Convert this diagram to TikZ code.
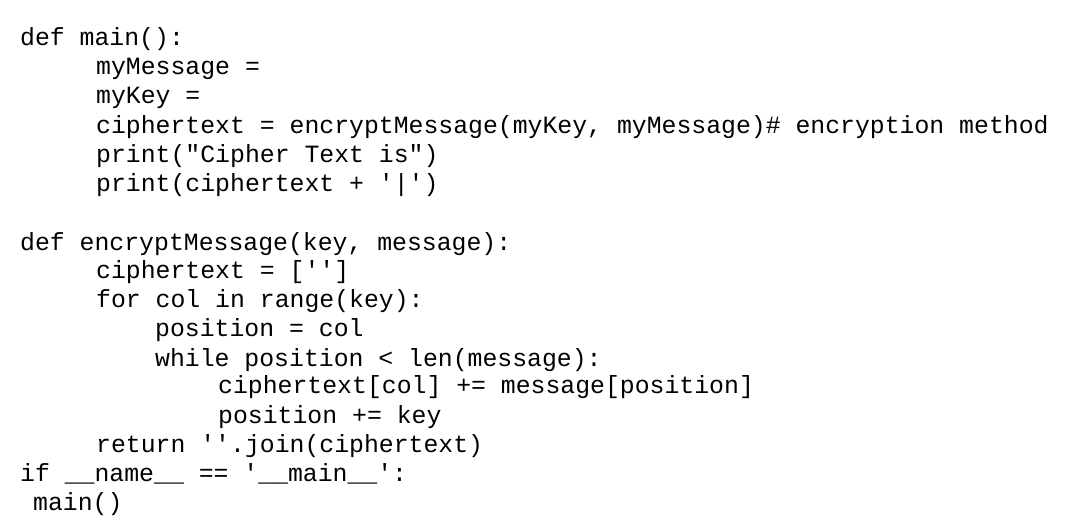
\documentclass[tikz,border=0pt]{standalone}
\usepackage{fontspec}
\setmonofont{Liberation Mono}
\begin{document}
\begin{tikzpicture}[x=1pt,y=-1pt,code/.style={anchor=base west,inner sep=0pt,font=\ttfamily\fontsize{24.8}{29}\selectfont}]
\useasboundingbox (0,0) rectangle (1078,532);
\fill[white] (0,0) rectangle (1078,532);
\node[code] (l1) at (20,46) {def main():};
\node[code] (l2) at (96,75) {myMessage =};
\node[code] (l3) at (96,104) {myKey =};
\node[code] (l4) at (96,133) {ciphertext = encryptMessage(myKey, myMessage)\# encryption method};
\node[code] (l5) at (96,162) {print("Cipher Text is")};
\node[code] (l6) at (96,191) {print(ciphertext + '|')};
\node[code] (l7) at (20,250) {def encryptMessage(key, message):};
\node[code] (l8) at (96,278) {ciphertext = ['']};
\node[code] (l9) at (96,307) {for col in range(key):};
\node[code] (l10) at (155,336) {position = col};
\node[code] (l11) at (155,366) {while position < len(message):};
\node[code] (l12) at (218,393) {ciphertext[col] += message[position]};
\node[code] (l13) at (218,423) {position += key};
\node[code] (l14) at (96,452) {return ''.join(ciphertext)};
\node[code] (l15) at (20,481) {if \_\_name\_\_ == '\_\_main\_\_':};
\node[code] (l16) at (33,510) {main()};
\end{tikzpicture}
\end{document}
